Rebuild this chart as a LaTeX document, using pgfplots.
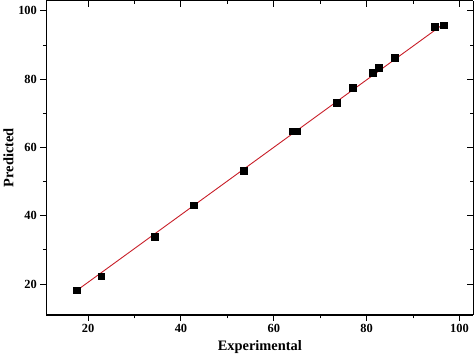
\documentclass[border=0pt]{standalone}
\usepackage{pgfplots}
\pgfplotsset{compat=1.18}
\usepackage{fontspec}
\setmainfont{Liberation Serif}
\definecolor{fitred}{RGB}{200,30,40}
\begin{document}
\begin{tikzpicture}
\pgfplotsset{
  common/.style={
    scale only axis, width=428bp, height=315bp,
    xmin=11, xmax=103, ymin=11, ymax=103,
    xtick={20,40,60,80,100}, ytick={20,40,60,80,100},
    minor x tick num=1, minor y tick num=1,
    major tick length=6bp, minor tick length=3.5bp,
    every tick/.style={black, line width=1bp},
    axis line style={black, line width=1.3bp},
  }
}
\begin{axis}[common,
    axis x line*=bottom, axis y line*=left,
    tick align=outside,
    xticklabel={\fontsize{12.5}{13}\selectfont\bfseries\pgfmathprintnumber[assume math mode=true]{\tick}},
    yticklabel={\fontsize{12.5}{13}\selectfont\bfseries\pgfmathprintnumber[assume math mode=true]{\tick}},
    xlabel={Experimental}, ylabel={Predicted},
    label style={font=\fontsize{14.5}{15}\selectfont\bfseries},
    xlabel style={yshift=-1bp},
    ylabel style={yshift=-2bp},
  ]
\addplot[fitred, line width=0.9bp, no marks] coordinates {(17.4,18.0) (96.6,96.2)};
\addplot[only marks, mark=square*, mark size=3.4bp, black, mark options={fill=black}] coordinates {
(17.5,18.2) (22.8,22.3) (34.4,34.0) (42.8,43.1) (53.5,53.3)
(64.0,64.8) (65.0,64.8) (73.5,73.2) (77.0,77.5) (81.3,81.9)
(82.6,83.4) (86.1,86.4) (94.6,95.3) (96.6,95.8)};
\end{axis}
\begin{axis}[common,
    axis x line*=top, axis y line*=right,
    tick align=inside,
    xticklabels={}, yticklabels={},
    every tick label/.append style={overlay},
  ]
\end{axis}
\end{tikzpicture}
\end{document}
